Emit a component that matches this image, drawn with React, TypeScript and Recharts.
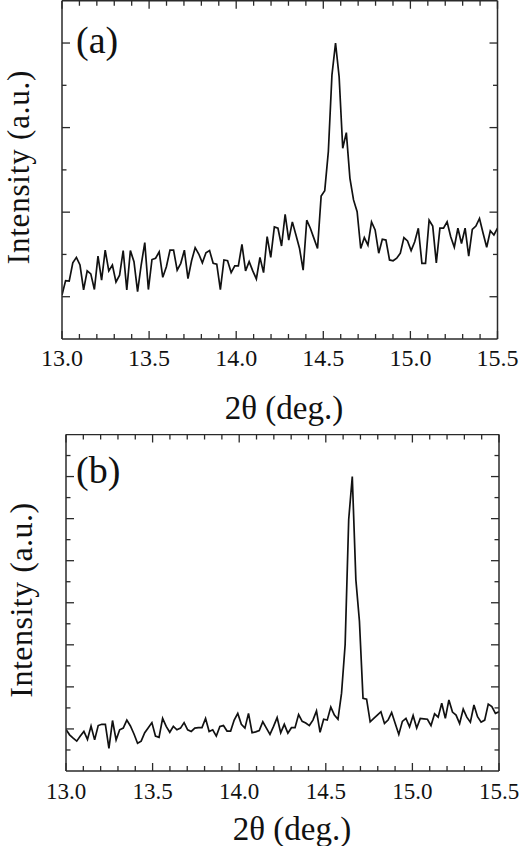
import React from 'react';
import { LineChart, Line, XAxis, YAxis, Label } from 'recharts';

const FONT = '"Liberation Serif", "Times New Roman", Times, serif';
const INK = '#111111';
const FRAME = '#2a2a2a';

// 2θ scan range and sampling (evenly spaced scan grid)
const thetaStart = 13.0;
const thetaEnd = 15.5;

// Panel (a) intensity (a.u.)
const panelAIntensity = [
  1.04, 1.38, 1.37, 1.8, 1.93, 1.75, 1.16, 1.61, 1.54, 1.17,
  1.96, 1.39, 2.1, 1.61, 1.75, 1.35, 1.51, 2.09, 1.16, 2.09,
  1.83, 1.12, 1.75, 2.28, 1.17, 1.88, 1.91, 2.06, 1.46, 1.71,
  2.1, 2.1, 1.63, 1.79, 2.1, 1.43, 1.85, 2.16, 2.01, 1.8,
  2.04, 2.09,
  1.79, 1.77, 1.17, 1.87, 1.85, 1.57, 1.73, 1.73, 2.24, 1.61,
  1.83, 1.61, 1.42, 1.93, 1.57, 2.42, 1.93, 2.65, 2.62, 2.2,
  2.95, 2.34, 2.77, 2.46, 2.14, 1.63, 2.81, 2.62, 2.38, 2.14,
  3.38, 3.51,
  4.43, 6.24, 7.0, 6.2, 4.51, 4.88, 3.8, 3.29, 3.01, 2.14,
  2.4, 2.22, 2.77, 2.58, 2.03, 2.36, 2.34, 1.87, 1.85, 1.91,
  2.03, 2.4, 2.32, 2.09, 2.3, 2.62, 1.79, 1.79, 2.81, 2.67,
  1.8, 2.62, 2.62, 2.77, 2.42, 2.17, 2.62, 2.26, 2.62, 1.96,
  2.59, 2.67, 2.85, 2.5, 2.17, 2.56, 2.46, 2.62,
];

// Panel (b) intensity (a.u.)
const panelBIntensity = [
  0.99, 0.86, 0.78, 0.71, 0.83, 0.94, 0.75, 1.07, 0.74, 1.08,
  1.11, 1.11, 0.54, 1.2, 0.74, 0.98, 1.02, 1.21, 1.07, 0.88,
  0.66, 0.71, 0.91, 1.03, 1.15, 0.83, 0.8, 1.25, 1.06, 0.92,
  1.06, 0.98, 1.02, 1.15, 0.98, 0.94, 1.02, 1.03, 1.03, 1.25,
  0.94,
  0.98, 0.83, 1.06, 1.08, 0.95, 0.95, 1.21, 1.37, 1.11, 1.02,
  1.37, 0.91, 0.93, 0.96, 1.17, 1.02, 0.87, 1.06, 1.27, 0.91,
  1.11, 0.9, 1.03, 1.03, 1.34, 1.18, 1.14, 1.08, 1.21, 1.43,
  0.92, 1.23, 1.21, 1.52, 1.33, 1.23,
  1.85, 3.0, 5.98, 7.0, 4.55, 3.56, 1.73, 1.71,
  1.17, 1.25, 1.33, 1.41, 1.13, 1.21, 1.39, 1.13, 0.87, 1.18,
  1.25, 1.05, 1.32, 1.02, 1.25, 1.24, 1.23, 1.08, 1.36, 1.28,
  1.61, 1.25, 1.69, 1.4, 1.33, 1.13, 1.47, 1.28, 1.16, 1.57,
  1.29, 1.16, 1.21, 1.59, 1.53, 1.37, 1.41,
];

const xAllTicks = [
  13.0, 13.1, 13.2, 13.3, 13.4, 13.5, 13.6, 13.7, 13.8, 13.9,
  14.0, 14.1, 14.2, 14.3, 14.4, 14.5, 14.6, 14.7, 14.8, 14.9,
  15.0, 15.1, 15.2, 15.3, 15.4, 15.5,
];
const xMajorTicks = [13.0, 13.5, 14.0, 14.5, 15.0, 15.5];
const xTickLabels = ['13.0', '13.5', '14.0', '14.5', '15.0', '15.5'];

const panelAYTicks = [1, 2, 3, 4, 5, 6, 7];
const panelAYMajor = [1, 3, 5, 7];
const panelBYTicks = [0.5, 1, 1.5, 2, 2.5, 3, 3.5, 4, 4.5, 5, 5.5, 6, 6.5, 7, 7.5];
const panelBYMajor = [1, 2, 3, 4, 5, 6, 7];

const xTitle = '2θ (deg.)';
const yTitle = 'Intensity (a.u.)';

const toRows = (vals: number[]) =>
  vals.map((v, i) => ({
    x: thetaStart + (i * (thetaEnd - thetaStart)) / (vals.length - 1),
    y: v,
  }));

const isIn = (arr: number[], v: number) => arr.findIndex((m) => Math.abs(m - v) < 1e-6);

// axis sizes (they take room out of the chart margin)
const BOTTOM_H = 30;
const TOP_H = 2;
const LEFT_W = 40;
const RIGHT_W = 2;

type PanelProps = {
  data: number[];
  tag: string;
  width: number;
  height: number;
  plot: { top: number; right: number; bottom: number; left: number };
  yTicks: number[];
  yMajor: number[];
  tickFont: number;
  tickLabelOffset: number;
  xTitleX: number;
  xTitleY: number;
  yTitleX: number;
  yTitleY: number;
  yTitleFont: number;
  yTitleSpacing: number;
  tagX: number;
  tagY: number;
};

function Panel(p: PanelProps) {
  const rows = toRows(p.data);
  const margin = {
    top: p.plot.top - TOP_H,
    right: p.width - p.plot.right - RIGHT_W,
    bottom: p.height - p.plot.bottom - BOTTOM_H,
    left: p.plot.left - LEFT_W,
  };

  const xTick = (side: 'bottom' | 'top') => (props: any) => {
    const { x, y, payload } = props;
    const idx = isIn(xMajorTicks, payload.value);
    const major = idx >= 0;
    const len = major ? 8 : 5;
    const dir = side === 'bottom' ? -1 : 1;
    return (
      <g>
        <line x1={x} y1={y} x2={x} y2={y + dir * len} stroke={FRAME} strokeWidth={1.3} />
        {side === 'bottom' && major ? (
          <text
            x={x}
            y={y + p.tickLabelOffset}
            textAnchor="middle"
            fontFamily={FONT}
            fontSize={p.tickFont}
            fill={INK}
          >
            {xTickLabels[idx]}
          </text>
        ) : null}
      </g>
    );
  };

  const yTick = (side: 'left' | 'right') => (props: any) => {
    const { x, y, payload } = props;
    const major = isIn(p.yMajor, payload.value) >= 0;
    const len = major ? 8 : 4.5;
    const dir = side === 'left' ? 1 : -1;
    return <line x1={x} y1={y} x2={x + dir * len} y2={y} stroke={FRAME} strokeWidth={1.3} />;
  };

  const titles = () => (
    <g>
      <text
        x={p.xTitleX}
        y={p.xTitleY}
        textAnchor="middle"
        fontFamily={FONT}
        fontSize={33}
        fill={INK}
      >
        {xTitle}
      </text>
      <text
        x={p.yTitleX}
        y={p.yTitleY}
        textAnchor="middle"
        fontFamily={FONT}
        fontSize={p.yTitleFont}
        letterSpacing={p.yTitleSpacing}
        fill={INK}
        transform={`rotate(-90 ${p.yTitleX} ${p.yTitleY})`}
      >
        {yTitle}
      </text>
      <text x={p.tagX} y={p.tagY} fontFamily={FONT} fontSize={38} fill={INK}>
        {p.tag}
      </text>
    </g>
  );

  const axisLine = { stroke: FRAME, strokeWidth: 1.5 };

  return (
    <LineChart width={p.width} height={p.height} data={rows} margin={margin}>
      <XAxis
        xAxisId="bottom"
        dataKey="x"
        type="number"
        orientation="bottom"
        domain={[thetaStart, thetaEnd]}
        ticks={xAllTicks}
        interval={0}
        height={BOTTOM_H}
        tickSize={0}
        tickMargin={0}
        tickLine={false}
        axisLine={axisLine}
        tick={xTick('bottom')}
        allowDataOverflow
      />
      <XAxis
        xAxisId="top"
        dataKey="x"
        type="number"
        orientation="top"
        domain={[thetaStart, thetaEnd]}
        ticks={xAllTicks}
        interval={0}
        height={TOP_H}
        tickSize={0}
        tickMargin={0}
        tickLine={false}
        axisLine={axisLine}
        tick={xTick('top')}
        allowDataOverflow
      />
      <YAxis
        yAxisId="left"
        type="number"
        orientation="left"
        domain={[0, 8]}
        ticks={p.yTicks}
        interval={0}
        width={LEFT_W}
        tickSize={0}
        tickMargin={0}
        tickLine={false}
        axisLine={axisLine}
        tick={yTick('left')}
        allowDataOverflow
      >
        <Label position="center" content={titles} />
      </YAxis>
      <YAxis
        yAxisId="right"
        type="number"
        orientation="right"
        domain={[0, 8]}
        ticks={p.yTicks}
        interval={0}
        width={RIGHT_W}
        tickSize={0}
        tickMargin={0}
        tickLine={false}
        axisLine={axisLine}
        tick={yTick('right')}
        allowDataOverflow
      />
      <Line
        xAxisId="bottom"
        yAxisId="left"
        type="linear"
        dataKey="y"
        stroke={INK}
        strokeWidth={1.7}
        dot={false}
        activeDot={false}
        isAnimationActive={false}
      />
    </LineChart>
  );
}

export default function App() {
  return (
    <div
      style={{
        position: 'absolute',
        left: 0,
        top: 0,
        width: 520,
        height: 846,
        background: '#ffffff',
        overflow: 'hidden',
      }}
    >
      <div style={{ position: 'absolute', left: 0, top: 0 }}>
        <Panel
          data={panelAIntensity}
          tag="(a)"
          width={520}
          height={434}
          plot={{ top: 0.75, right: 497.5, bottom: 339, left: 62 }}
          yTicks={panelAYTicks}
          yMajor={panelAYMajor}
          tickFont={24}
          tickLabelOffset={26.5}
          xTitleX={284}
          xTitleY={419}
          yTitleX={28.5}
          yTitleY={167}
          yTitleFont={31}
          yTitleSpacing={0.8}
          tagX={76}
          tagY={53}
        />
      </div>
      <div style={{ position: 'absolute', left: 0, top: 434 }}>
        <Panel
          data={panelBIntensity}
          tag="(b)"
          width={520}
          height={412}
          plot={{ top: 0.5, right: 499, bottom: 337, left: 66 }}
          yTicks={panelBYTicks}
          yMajor={panelBYMajor}
          tickFont={23}
          tickLabelOffset={28}
          xTitleX={292}
          xTitleY={406}
          yTitleX={32}
          yTitleY={166}
          yTitleFont={32}
          yTitleSpacing={0.5}
          tagX={76}
          tagY={49}
        />
      </div>
    </div>
  );
}
